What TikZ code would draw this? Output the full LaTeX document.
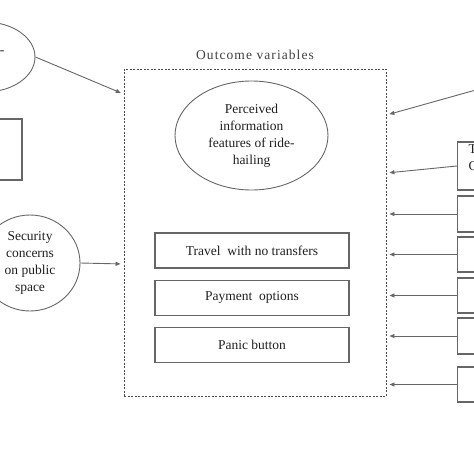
\documentclass[tikz,border=0pt]{standalone}
\usepackage{fontspec}
\setmainfont{Liberation Serif}
\usetikzlibrary{arrows.meta}
\usetikzlibrary{shapes.geometric}
\usetikzlibrary{positioning}
\colorlet{framelines}{black!70}
\colorlet{boxlines}{black!60}
\colorlet{labeltext}{black!88}

\begin{document}
\begin{tikzpicture}[x=1pt, y=-1pt,
        every node/.style={font=\fontsize{13.5}{17}\selectfont, text=labeltext},
        ovalnode/.style={ellipse, draw=boxlines, line width=0.9pt, inner sep=0pt, align=center},
        boxnode/.style={rectangle, draw=boxlines, line width=1.1pt, inner sep=0pt, align=center},
        arrowline/.style={draw=boxlines, line width=0.9pt, -{Triangle[length=5pt,width=4pt]}, shorten >=3pt}]
        \useasboundingbox (0,0) rectangle (474,474);
        \clip (0,0) rectangle (474,474);
        % outcome frame
        \node[draw=framelines, dash pattern=on 2pt off 1.5pt, line width=0.9pt,
              minimum width=262pt, minimum height=327pt] (outcome) at (255,232.5) {};
        \node[text=black!75] (title) at (255,55) {\addfontfeature{LetterSpace=8}Outcome variables};
        \node[ovalnode, minimum width=153pt, minimum height=109pt] (perceived) at (251.5,135.5)
            {Perceived\\information\\features of ride-\\hailing};
        \node[boxnode, minimum width=194pt, minimum height=35pt] (transfers) at (252,250.5) {Travel\ \ with no transfers};
        \node[boxnode, minimum width=194pt, minimum height=35pt, below=11pt of transfers] (payment) {Payment\ \ options};
        \node[boxnode, minimum width=194pt, minimum height=35pt, below=11pt of payment] (panic) {Panic button};
        % left side
        \node[ovalnode, minimum width=100pt, minimum height=70pt] (riskoval) at (-15,57) {};
        \node[anchor=east] (riskfrag) at (8,50) {ride-};
        \node[boxnode, minimum width=82pt, minimum height=61pt] (leftbox) at (-19,149.5) {};
        \node[ovalnode, minimum width=100pt, minimum height=96pt] (security) at (30,263)
            {Security\\concerns\\on public\\space};
        \draw[arrowline] (riskoval.east) -- (outcome.west |- 0,94);
        \draw[arrowline] (security.east) -- (outcome.west |- 0,264);
        % right side
        \node[ovalnode, minimum width=130pt, minimum height=80pt] (rightoval) at (540,72) {};
        \draw[arrowline] (rightoval) -- (outcome.east |- 0,115);
        \node[boxnode, anchor=west, minimum width=90pt, minimum height=48pt] (rbox2) at (457,166) {};
        \node[anchor=west, align=left] (rtext2) at (465,157) {Travel\\Cost};
        \draw[arrowline] (rbox2.west) -- (outcome.east |- 0,173);
        \foreach \n/\yc/\ht in {3/214/36, 4/254.5/35, 5/295.5/35, 6/336/36, 7/384.5/35}
        {
            \node[boxnode, anchor=west, minimum width=90pt, minimum height=\ht pt] (rbox\n) at (457,\yc) {};
            \draw[arrowline] (rbox\n.west) -- (outcome.east |- 0,\yc);
        }
    \end{tikzpicture}
\end{document}
